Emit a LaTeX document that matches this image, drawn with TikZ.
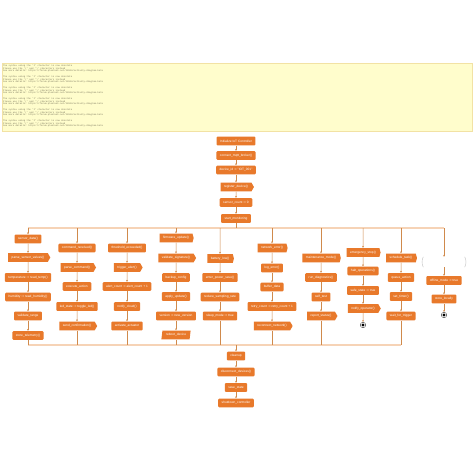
\documentclass[tikz,border=0pt]{standalone}
\usepackage{fontspec}
\setmainfont{Liberation Sans}
\newfontfamily\notefont{Liberation Mono}
\usetikzlibrary{shapes.symbols,shapes.geometric,arrows.meta}
\definecolor{actfill}{HTML}{E8792B}
\definecolor{linec}{HTML}{D08A4C}
\definecolor{barc}{HTML}{F6D3B6}
\definecolor{notefill}{HTML}{FFFDCC}
\definecolor{notedraw}{HTML}{F2E2A4}
\definecolor{notetext}{HTML}{7A765C}
\tikzset{
  act/.style={rectangle, rounded corners=1pt, fill=actfill, text=white,
    font=\fontsize{3.2}{3.5}\selectfont, minimum height=8.8, inner xsep=3.5, inner ysep=0},
  sendbox/.style={act, rounded corners=0, signal, signal to=east, signal pointer angle=120},
  notchbox/.style={act, rounded corners=0, signal, signal from=east, signal pointer angle=150},
  parabox/.style={act, rounded corners=0, trapezium, trapezium left angle=70, trapezium right angle=110, trapezium stretches body},
  conn/.style={draw=linec, line width=0.5},
  arr/.style={conn, -{Stealth[length=2pt,width=1.8pt]}},
  bar/.style={draw=barc, line width=1.4},
  stopring/.style={circle, draw=black!75, fill=white, line width=0.4, minimum size=5.5, inner sep=0},
  notebox/.style={fill=notefill, draw=notedraw, line width=0.6},
  notetxt/.style={font=\notefont\fontsize{2.3}{2.75}\selectfont, text=notetext, align=left, inner sep=0}
}
\begin{document}
\begin{tikzpicture}[x=1pt,y=-1pt]
\useasboundingbox (0,0) rectangle (474,474);
\fill[white] (0,0) rectangle (474,474);
% note
\path[notebox] (2,63) rectangle (472,131);
\node[notetxt, anchor=north west] (note) at (3,64.5) {%
The syntax using the 'I' character is now obsolete\\
Please use the '(' and ')' characters instead\\
See more details: https://forum.plantuml.net/10516/activity-diagram-beta\\[2.75pt]
The syntax using the 'I' character is now obsolete\\
Please use the '(' and ')' characters instead\\
See more details: https://forum.plantuml.net/10516/activity-diagram-beta\\[2.75pt]
The syntax using the 'I' character is now obsolete\\
Please use the '(' and ')' characters instead\\
See more details: https://forum.plantuml.net/10516/activity-diagram-beta\\[2.75pt]
The syntax using the 'I' character is now obsolete\\
Please use the '(' and ')' characters instead\\
See more details: https://forum.plantuml.net/10516/activity-diagram-beta\\[2.75pt]
The syntax using the 'I' character is now obsolete\\
Please use the '(' and ')' characters instead\\
See more details: https://forum.plantuml.net/10516/activity-diagram-beta\\[2.75pt]
The syntax using the 'I' character is now obsolete\\
Please use the '(' and ')' characters instead\\
See more details: https://forum.plantuml.net/10516/activity-diagram-beta};

% top chain
\node[act] (t1) at (236,141) {Initialize IoT Controller};
\node[act] (t2) at (236,155.5) {connect\_mqtt\_broker()};
\node[act] (t3) at (236,170) {device\_id := "IOT\_001"};
\node[sendbox] (t4) at (236,187) {register\_device()};
\node[act] (t5) at (236,202.5) {sensor\_count := 0};
\node[act] (t6) at (236,218.5) {start\_monitoring};
\foreach \a/\b in {t1/t2,t2/t3,t3/t4,t4/t5,t5/t6} \draw[arr] (\a) -- (\b);

% split bars
\coordinate (tc) at (236,228);
\coordinate (b1) at (28,228);  \coordinate (b2) at (77,228);
\coordinate (b3) at (127,228); \coordinate (b4) at (176,228);
\coordinate (b5) at (220,228); \coordinate (b6) at (272,228);
\coordinate (b7) at (321,228); \coordinate (b8) at (363,228);
\coordinate (b9) at (401,228); \coordinate (b10) at (444,228);
\coordinate (ec) at (236,345);
\coordinate (e1) at (28,345);  \coordinate (e2) at (77,345);
\coordinate (e3) at (127,345); \coordinate (e4) at (176,345);
\coordinate (e5) at (220,345); \coordinate (e6) at (272,345);
\coordinate (e7) at (321,345); \coordinate (e9) at (401,345);
\draw[bar] (b1) -- (b10);
\draw[bar] (e1) -- (e9);
\draw[conn] (t6) -- (tc);

% column 1
\node[act] (c1a) at (28,239) {sensor\_data()};
\node[sendbox] (c1b) at (28,257.5) {parse\_sensor\_values()};
\node[act] (c1c) at (28,277.5) {temperature := read\_temp()};
\node[act] (c1d) at (28,297) {humidity := read\_humidity()};
\node[act] (c1e) at (28,316) {validate\_range};
\node[act] (c1f) at (28,335.5) {store\_telemetry()};
\draw[arr] (b1) -- (c1a);
\foreach \a/\b in {c1a/c1b,c1b/c1c,c1c/c1d,c1d/c1e,c1e/c1f} \draw[arr] (\a) -- (\b);
\draw[conn] (c1f) -- (e1);

% column 2
\node[act] (c2a) at (77,248) {command\_received()};
\node[sendbox] (c2b) at (77,267.5) {parse\_command()};
\node[act] (c2c) at (77,286.5) {execute\_action};
\node[act] (c2d) at (77,306.5) {led\_state := toggle\_led()};
\node[sendbox] (c2e) at (77,326) {send\_confirmation()};
\draw[arr] (b2) -- (c2a);
\foreach \a/\b in {c2a/c2b,c2b/c2c,c2c/c2d,c2d/c2e} \draw[arr] (\a) -- (\b);
\draw[conn] (c2e) -- (e2);

% column 3
\node[act] (c3a) at (127,248) {threshold\_exceeded()};
\node[sendbox] (c3b) at (127,267.5) {trigger\_alert()};
\node[act] (c3c) at (127,286.5) {alert\_count := alert\_count + 1};
\node[act] (c3d) at (127,306.5) {notify\_cloud()};
\node[act] (c3e) at (127,326) {activate\_actuator};
\draw[arr] (b3) -- (c3a);
\foreach \a/\b in {c3a/c3b,c3b/c3c,c3c/c3d,c3d/c3e} \draw[arr] (\a) -- (\b);
\draw[conn] (c3e) -- (e3);

% column 4
\node[notchbox] (c4a) at (176,238) {firmware\_update()};
\node[sendbox] (c4b) at (176,258) {validate\_signature()};
\node[act] (c4c) at (176,277.5) {backup\_config};
\node[act] (c4d) at (176,296.5) {apply\_update()};
\node[act] (c4e) at (176,316) {version := new\_version};
\node[parabox] (c4f) at (176,335) {reboot\_device};
\draw[arr] (b4) -- (c4a);
\foreach \a/\b in {c4a/c4b,c4b/c4c,c4c/c4d,c4d/c4e,c4e/c4f} \draw[arr] (\a) -- (\b);
\draw[conn] (c4f) -- (e4);

% column 5
\node[notchbox] (c5a) at (220,258.5) {battery\_low()};
\node[act] (c5b) at (220,277.5) {enter\_power\_save()};
\node[act] (c5c) at (220,297) {reduce\_sampling\_rate};
\node[act] (c5d) at (220,316) {sleep\_mode := true};
\draw[arr] (b5) -- (c5a);
\foreach \a/\b in {c5a/c5b,c5b/c5c,c5c/c5d} \draw[arr] (\a) -- (\b);
\draw[conn] (c5d) -- (e5);

% column 6
\node[notchbox] (c6a) at (272,248) {network\_error()};
\node[act] (c6b) at (272,268) {log\_error()};
\node[act] (c6c) at (272,287) {buffer\_data};
\node[act] (c6d) at (272,306.5) {retry\_count := retry\_count + 1};
\node[sendbox] (c6e) at (272,326) {reconnect\_network()};
\draw[arr] (b6) -- (c6a);
\foreach \a/\b in {c6a/c6b,c6b/c6c,c6c/c6d,c6d/c6e} \draw[arr] (\a) -- (\b);
\draw[conn] (c6e) -- (e6);

% column 7
\node[notchbox] (c7a) at (321,258) {maintenance\_mode()};
\node[act] (c7b) at (321,277.5) {run\_diagnostics()};
\node[act] (c7c) at (321,297) {self\_test};
\node[sendbox] (c7d) at (321,316) {report\_status()};
\draw[arr] (b7) -- (c7a);
\foreach \a/\b in {c7a/c7b,c7b/c7c,c7c/c7d} \draw[arr] (\a) -- (\b);
\draw[conn] (c7d) -- (e7);

% column 8
\node[notchbox] (c8a) at (363,252.5) {emergency\_stop()};
\node[act] (c8b) at (363,271) {halt\_operations()};
\node[act] (c8c) at (363,290.5) {safe\_state := true};
\node[sendbox] (c8d) at (363,308.5) {notify\_operator()};
\node[stopring] (c8end) at (363,325) {};
\fill (c8end.center) circle (1.7);
\draw[arr] (b8) -- (c8a);
\foreach \a/\b in {c8a/c8b,c8b/c8c,c8c/c8d,c8d/c8end} \draw[arr] (\a) -- (\b);

% column 9
\node[notchbox] (c9a) at (401,258) {schedule\_task()};
\node[act] (c9b) at (401,277.5) {queue\_action};
\node[act] (c9c) at (401,296.5) {set\_timer()};
\node[act] (c9d) at (401,316) {wait\_for\_trigger};
\draw[arr] (b9) -- (c9a);
\foreach \a/\b in {c9a/c9b,c9b/c9c,c9c/c9d} \draw[arr] (\a) -- (\b);
\draw[conn] (c9d) -- (e9);

% column 10
\node[rectangle, fill=white, minimum width=44, minimum height=10, inner sep=0] (c10a) at (444,262) {};
\draw[black!25, line width=0.4] ([xshift=1.5]c10a.north west) to[bend right=25] ([xshift=1.5]c10a.south west);
\draw[black!25, line width=0.4] ([xshift=-1.5]c10a.north east) to[bend left=25] ([xshift=-1.5]c10a.south east);
\node[act] (c10b) at (444,280.5) {offline\_mode := true};
\node[act] (c10c) at (444,299) {store\_locally};
\node[stopring] (c10end) at (444,315) {};
\fill (c10end.center) circle (1.7);
\draw[arr] (b10) -- (c10a);
\foreach \a/\b in {c10a/c10b,c10b/c10c,c10c/c10end} \draw[arr] (\a) -- (\b);

% bottom chain
\node[act] (d1) at (236,356) {cleanup};
\node[act] (d2) at (236,372) {disconnect\_devices()};
\node[act] (d3) at (236,387.5) {save\_state};
\node[act] (d4) at (236,403) {shutdown\_controller};
\draw[arr] (ec) -- (d1);
\foreach \a/\b in {d1/d2,d2/d3,d3/d4} \draw[arr] (\a) -- (\b);
\end{tikzpicture}
\end{document}
